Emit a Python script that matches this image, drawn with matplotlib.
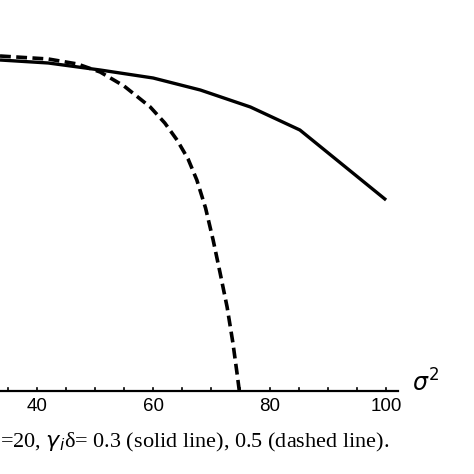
import numpy as np
import matplotlib.pyplot as plt

# values (height above the axis line, arbitrary units)
solid_x = [33.7, 42, 50.9, 60, 68.1, 76.7, 85.2, 92.6, 100]
solid_y = [331, 328, 321, 313, 301, 284, 261, 226, 191]
dash_x = [33.7, 42, 47, 50.9, 55, 59.5, 62, 64.1, 66, 67.5, 69, 70.3, 71.5, 72.7, 73.7, 74.4, 74.8]
dash_y = [335, 332, 327, 319, 305, 284, 268, 251, 232, 211, 183, 151, 118, 84, 48, 18, 0]
xticks = [40, 60, 80, 100]
caption = r"=20, $\gamma_i$δ= 0.3 (solid line), 0.5 (dashed line)."

fig = plt.figure(figsize=(4.74, 4.74), dpi=100)
ax = fig.add_axes([0, 0, 1, 1])
ax.set_xlim(33.7, 115.1)
ax.set_ylim(-83, 391)

ax.plot(solid_x, solid_y, color='black', lw=2.4, solid_capstyle='butt')
ax.plot(dash_x, dash_y, color='black', lw=2.6, dashes=(3.0, 1.5))

# x axis line with ticks
ax.plot([33.7, 102.1], [0, 0], color='black', lw=1.6)
for t in np.arange(35, 101, 5):
    ax.plot([t, t], [0, 3], color='black', lw=1.2)
for t in xticks:
    ax.text(t, -7, str(t), ha='center', va='top', fontsize=13.5, family='Liberation Sans')
ax.text(104.5, 8, r'$\sigma^2$', ha='left', va='center', fontsize=17)

ax.text(33.7, -51, caption, ha='left', va='center', fontsize=16,
        family=['Liberation Serif', 'DejaVu Serif'])

ax.axis('off')
fig.savefig('out.png', dpi=100)
